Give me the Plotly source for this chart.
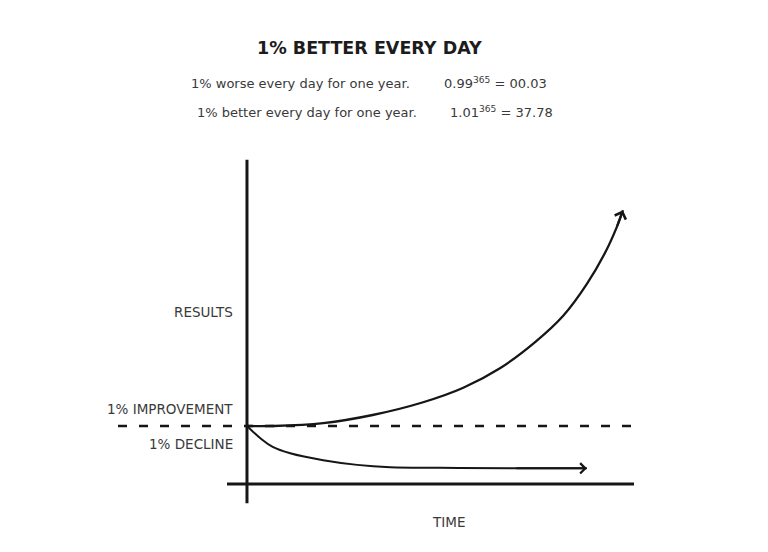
import plotly.graph_objects as go

# page is 768x552; the html body has an 8px margin, so the figure is 760x544
OFF = 8
W, H = 760, 544

# ---- data ----
days_better = [0, 25, 74, 122, 171, 210, 246, 280, 307, 330, 348, 359, 365]
results_better = [1.0, 1.0, 1.05, 1.19, 1.41, 1.66, 2.00, 2.45, 2.90, 3.45, 4.00, 4.43, 4.72]

days_worse = [0, 13, 25, 42, 74, 107, 139, 187, 260, 330]
results_worse = [1.0, 0.79, 0.64, 0.53, 0.41, 0.33, 0.29, 0.28, 0.27, 0.27]

baseline = 1.0

title_text = "1% BETTER EVERY DAY"
worse_text = "1% worse every day for one year."
worse_eq = "0.99<sup>365</sup> = 00.03"
better_text = "1% better every day for one year."
better_eq = "1.01<sup>365</sup> = 37.78"
y_label = "RESULTS"
x_label = "TIME"
improve_label = "1% IMPROVEMENT"
decline_label = "1% DECLINE"

# ---- layout constants ----
X_RANGE = [-232.0, 505.8]
Y_RANGE = [-1.172, 8.207]
YAXIS_SPAN = [-0.33, 5.59]      # vertical hand-drawn axis extent (results units)
XAXIS_SPAN = [-19.4, 375.7]     # horizontal axis extent (days)
DASH_SPAN = [-125.2, 377.6]     # dashed baseline extent (days)

INK = "#161616"
GREY = "#3a3a3a"
FONT = "DejaVu Sans"

fig = go.Figure()

fig.add_trace(go.Scatter(x=days_better, y=results_better, mode="lines",
                         line=dict(color=INK, width=2.3, shape="spline", smoothing=1.1),
                         hoverinfo="skip", showlegend=False))
fig.add_trace(go.Scatter(x=days_worse, y=results_worse, mode="lines",
                         line=dict(color=INK, width=2.0, shape="spline", smoothing=1.1),
                         hoverinfo="skip", showlegend=False))

shapes = [
    dict(type="line", xref="x", yref="y", x0=0, x1=0, y0=YAXIS_SPAN[0], y1=YAXIS_SPAN[1],
         line=dict(color=INK, width=3)),
    dict(type="line", xref="x", yref="y", x0=XAXIS_SPAN[0], x1=XAXIS_SPAN[1], y0=0, y1=0,
         line=dict(color=INK, width=3)),
    dict(type="line", xref="x", yref="y", x0=DASH_SPAN[0], x1=DASH_SPAN[1], y0=baseline, y1=baseline,
         line=dict(color=INK, width=2.3, dash="9px,12px")),
]

def paper(px, py):
    return (px - OFF) / W, 1 - (py - OFF) / H

annotations = []

def text(s, px, py, size, anchor="center", bold=False, color=GREY):
    x, y = paper(px, py)
    annotations.append(dict(text=f"<b>{s}</b>" if bold else s, x=x, y=y, xref="paper", yref="paper",
                            xanchor=anchor, yanchor="middle", showarrow=False,
                            font=dict(family=FONT, size=size, color=color)))

text(title_text, 369, 48, 17.5, bold=True, color="#1c1c1c")
text(worse_text, 189, 83, 13, anchor="left")
text(worse_eq, 442, 83, 13, anchor="left")
text(better_text, 195, 112, 13, anchor="left")
text(better_eq, 448, 112, 13, anchor="left")
text(y_label, 235, 312, 13.5, anchor="right")
text(improve_label, 235, 409, 13.5, anchor="right")
text(decline_label, 235, 444, 13.5, anchor="right")
text(x_label, 448, 522, 13.5)

# arrowheads at the ends of both curves
for xs, ys, w in [(days_better, results_better, 2.3), (days_worse, results_worse, 2.0)]:
    annotations.append(dict(x=xs[-1], y=ys[-1], ax=xs[-2], ay=ys[-2], xref="x", yref="y",
                            axref="x", ayref="y", showarrow=True, arrowhead=4, arrowsize=1.0,
                            arrowwidth=w, arrowcolor=INK, text="", standoff=0))

fig.update_layout(
    width=W, height=H, margin=dict(l=0, r=0, t=0, b=0),
    paper_bgcolor="white", plot_bgcolor="white",
    xaxis=dict(range=X_RANGE, visible=False, fixedrange=True),
    yaxis=dict(range=Y_RANGE, visible=False, fixedrange=True),
    shapes=shapes, annotations=annotations, showlegend=False,
)

fig.write_html("out.html")
